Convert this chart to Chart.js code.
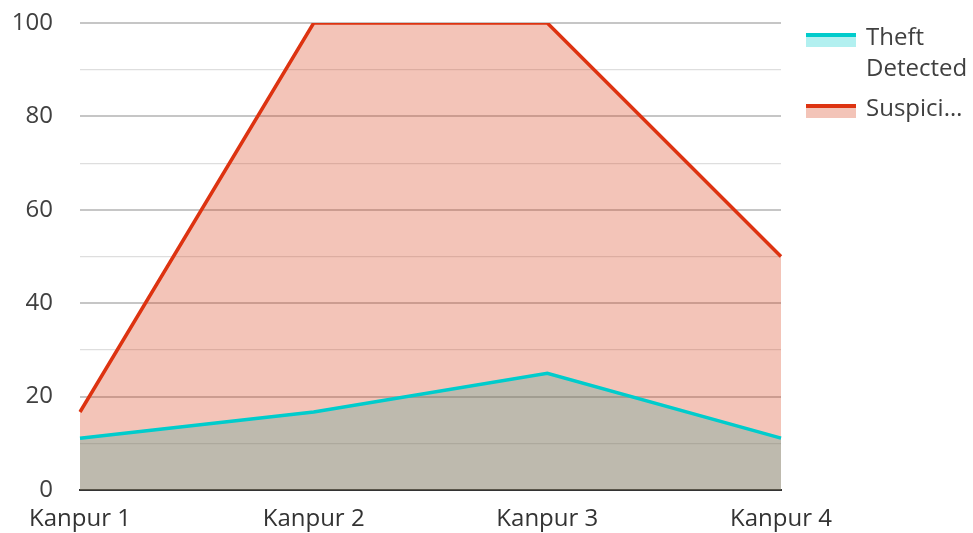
<!DOCTYPE html>
<html>
<head>
<meta charset="utf-8">
<script src="https://cdn.jsdelivr.net/npm/chart.js@4/dist/chart.umd.min.js"></script>
<style>
  html, body { margin:0; padding:0; background:#fff; }
  #wrap { position:relative; width:973px; height:533px; font-family:"Open Sans", sans-serif; }
  #c { position:absolute; left:0; top:0; }
  #legend { position:absolute; left:806px; top:20px; width:167px; }
  .item { display:flex; align-items:flex-start; margin-bottom:9px; }
  .sw { width:50px; height:14px; margin-top:13px; flex:none; box-sizing:border-box; }
  .txt { margin-left:10px; width:107px; font-size:24px; line-height:31px; color:#404040; }
  .w { display:inline-block; max-width:107px; white-space:nowrap; overflow:hidden; text-overflow:ellipsis; vertical-align:top; }
</style>
</head>
<body>
<div id="wrap">
  <canvas id="c" width="973" height="533"></canvas>
  <div id="legend"></div>
</div>
<script>
const categories = ["Kanpur 1", "Kanpur 2", "Kanpur 3", "Kanpur 4"];
const theftDetected = [11.1, 16.7, 25, 11.1];
const suspicious = [16.7, 100, 100, 50];
const seriesNames = ["Theft Detected", "Suspicious"];
const yTicks = [0, 20, 40, 60, 80, 100];

const cyan = "#00cccc", cyanFill = "rgba(0,204,204,0.3)";
const red = "#dd3311", redFill = "rgba(214,58,20,0.3)";

const datasets = [
  { label: seriesNames[0], data: theftDetected, borderColor: cyan, backgroundColor: cyanFill, fill: "origin", order: 2 },
  { label: seriesNames[1], data: suspicious, borderColor: red, backgroundColor: redFill, fill: "origin", order: 1 }
];
datasets.forEach(d => { d.borderWidth = 3.5; d.pointRadius = 0; d.tension = 0; });

Chart.defaults.font.family = "'Open Sans', sans-serif";
Chart.defaults.color = "#404040";

new Chart(document.getElementById("c"), {
  type: "line",
  data: { labels: categories, datasets },
  options: {
    responsive: false,
    animation: false,
    layout: { padding: { top: 23, right: 192, bottom: 0, left: 0 } },
    plugins: {
      legend: { display: false },
      tooltip: { enabled: false },
      filler: { drawTime: "beforeDatasetsDraw" }
    },
    scales: {
      x: {
        offset: false,
        grid: { display: false, drawTicks: false },
        border: { display: true, color: "#333", width: 2 },
        ticks: { font: { size: 24 }, padding: 15, maxRotation: 0, color: "#333" },
        afterFit: s => { s.height = 43; s.paddingLeft = 0; s.paddingRight = 0; }
      },
      y: {
        min: 0, max: 100,
        afterBuildTicks: ax => { const t = []; for (let v = 0; v <= 100; v += 10) t.push({ value: v }); ax.ticks = t; },
        grid: {
          drawTicks: false,
          color: ctx => (ctx.tick && ctx.tick.value % 20 === 0) ? "#c6c6c6" : "#dedede",
          lineWidth: ctx => (ctx.tick && ctx.tick.value % 20 === 0) ? 2 : 1.2
        },
        border: { display: false },
        ticks: {
          font: { size: 24 }, padding: 27, color: "#404040",
          callback: v => yTicks.includes(v) ? String(v) : ""
        },
        afterFit: s => { s.width = 80; s.paddingTop = 0; s.paddingBottom = 0; }
      }
    }
  }
});

const lg = document.getElementById("legend");
datasets.forEach(d => {
  const item = document.createElement("div"); item.className = "item";
  const sw = document.createElement("div"); sw.className = "sw";
  sw.style.background = d.backgroundColor; sw.style.borderTop = "4px solid " + d.borderColor;
  const tx = document.createElement("div"); tx.className = "txt";
  d.label.split(" ").forEach((w, i) => {
    const s = document.createElement("span"); s.className = "w"; s.textContent = w;
    tx.appendChild(s);
    tx.appendChild(document.createTextNode(" "));
  });
  item.appendChild(sw); item.appendChild(tx); lg.appendChild(item);
});
</script>
</body>
</html>
